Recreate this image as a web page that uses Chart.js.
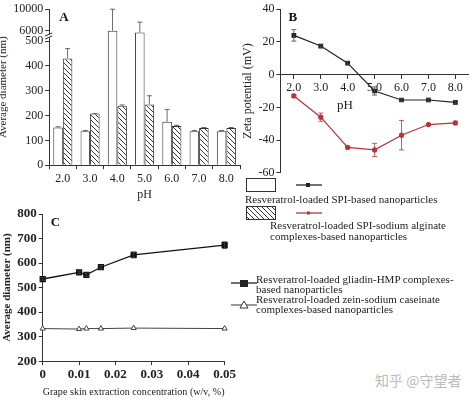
<!DOCTYPE html>
<html>
<head>
<meta charset="utf-8">
<script src="https://cdn.jsdelivr.net/npm/chart.js@4"></script>
<style>
body{margin:0;background:#fff;width:474px;height:400px;position:relative;overflow:hidden;font-family:"Liberation Serif",serif;color:#222}
canvas{position:absolute}
.t{position:absolute;font-size:11px;line-height:11px;white-space:nowrap}
.box{position:absolute;border:1px solid #333;width:28px;height:12px;background:#fff}
</style>
</head>
<body>
<canvas id="a" width="246" height="206" style="left:-4px;top:0"></canvas>
<canvas id="b" width="234" height="182" style="left:240px;top:0"></canvas>
<canvas id="c" width="238" height="198" style="left:0;top:202px"></canvas>

<div class="box" style="left:246px;top:178px"></div>
<svg style="position:absolute;left:294px;top:178px" width="30" height="14"><line x1="2" y1="7" x2="28" y2="7" stroke="#222" stroke-width="1.3"/><rect x="12" y="5" width="4" height="4" fill="#222"/></svg>
<div class="t" style="left:245px;top:194px">Resveratrol-loaded SPI-based nanoparticles</div>
<canvas id="hb" width="30" height="14" style="left:246px;top:206px"></canvas>
<svg style="position:absolute;left:294px;top:206px" width="30" height="14"><line x1="2" y1="7" x2="28" y2="7" stroke="#b8333f" stroke-width="1.3"/><rect x="13" y="5.5" width="3" height="3" fill="#b8333f"/></svg>
<div class="t" style="left:270px;top:220px">Resveratrol-loaded SPI-sodium alginate</div>
<div class="t" style="left:270px;top:231px">complexes-based nanoparticles</div>

<svg style="position:absolute;left:230px;top:280px" width="28" height="30"><line x1="1" y1="3" x2="27" y2="3" stroke="#222" stroke-width="1.3"/><rect x="10" y="-1" width="8" height="8" fill="#222"/><line x1="1" y1="25" x2="27" y2="25" stroke="#333"/><path d="M14 21 L18 28 L10 28 Z" fill="#fff" stroke="#333"/></svg>
<div class="t" style="left:256px;top:274px">Resveratrol-loaded gliadin-HMP complexes-</div>
<div class="t" style="left:256px;top:284px">based nanoparticles</div>
<div class="t" style="left:256px;top:294px">Resveratrol-loaded zein-sodium caseinate</div>
<div class="t" style="left:256px;top:304px">complexes-based nanoparticles</div>
<div class="t" style="left:375px;top:373px;font-size:14px;line-height:14px;color:#bbb;font-family:'Noto Sans CJK SC',sans-serif">知乎 @守望者</div>

<script>
const phLabels = ['2.0','3.0','4.0','5.0','6.0','7.0','8.0'];
// panel A: particle size (nm)
const spiSize = [152, 137, 6000, 5700, 175, 137, 137];
const spiSizeErr = [3, 3, 4000, 1900, 50, 3, 3];
const algSize = [430, 208, 240, 245, 158, 150, 150];
const algSizeErr = [40, 0, 3, 35, 3, 2, 2];
const sizeTicks = [0, 100, 200, 300, 400, 500, 6000, 10000];
// panel B: zeta potential (mV)
const spiZeta = [24, 17.5, 7, -10, -15.5, -15.5, -17];
const spiZetaErr = [3.5, 1, 1, 2.5, 0.8, 1, 1];
const algZeta = [-13, -26, -44.5, -46, -37, -30.5, -29.5];
const algZetaErr = [1, 2.5, 0.5, 4, 9, 0.5, 1];
// panel C: concentration vs diameter
const concX = [0, 0.01, 0.012, 0.016, 0.025, 0.05];
const gliadinSize = [535, 562, 552, 583, 633, 673];
const gliadinErr = [5, 5, 7, 7, 12, 14];
const zeinSize = [333, 331, 333, 333, 335, 333];

const RED = '#b8333f';
const serif = "'Liberation Serif', serif";

// hatched fill
function hatch() {
  const p = document.createElement('canvas'); p.width = p.height = 5;
  const g = p.getContext('2d');
  g.fillStyle = '#fff'; g.fillRect(0, 0, 5, 5);
  g.strokeStyle = '#333'; g.lineWidth = 1;
  g.beginPath(); g.moveTo(-1, -1); g.lineTo(6, 6); g.moveTo(-1, 4); g.lineTo(1, 6); g.moveTo(4, -1); g.lineTo(6, 1); g.stroke();
  return g.createPattern(p, 'repeat');
}
{ const g = document.getElementById('hb').getContext('2d'); g.fillStyle = hatch(); g.fillRect(0,0,30,14); g.strokeStyle='#333'; g.strokeRect(0.5,0.5,29,13); }

// broken y axis: 0-500 linear, then compressed 6000-10000
const fwd = v => v <= 500 ? v : Math.max(500, 542 + (v - 6000) * 0.02175);
const inv = t => t <= 500 ? t : 6000 + (t - 542) / 0.02175;
class BrokenScale extends Chart.LinearScale {
  getPixelForValue(v) { return super.getPixelForValue(fwd(v)); }
  getValueForPixel(p) { return inv(super.getValueForPixel(p)); }
}
BrokenScale.id = 'broken';
BrokenScale.defaults = Chart.LinearScale.defaults;
Chart.register(BrokenScale);

const errPlugin = {
  id: 'err',
  afterDatasetsDraw(chart) {
    const ctx = chart.ctx, ys = chart.scales.y;
    chart.data.datasets.forEach((ds, i) => {
      if (!ds.err) return;
      chart.getDatasetMeta(i).data.forEach((el, j) => {
        const v = ds.data[j], e = ds.err[j];
        const y = typeof v === 'object' ? v.y : v;
        const top = ys.getPixelForValue(y + e), bot = ds.upOnly ? el.y : ys.getPixelForValue(y - e);
        ctx.save(); ctx.strokeStyle = ds.errColor || '#444'; ctx.lineWidth = 0.8;
        ctx.beginPath(); ctx.moveTo(el.x, top); ctx.lineTo(el.x, bot);
        ctx.moveTo(el.x - 2.5, top); ctx.lineTo(el.x + 2.5, top);
        if (!ds.upOnly) { ctx.moveTo(el.x - 2.5, bot); ctx.lineTo(el.x + 2.5, bot); }
        ctx.stroke(); ctx.restore();
      });
    });
  }
};
const labelPlugin = {
  id: 'lbl',
  afterDraw(chart, a, o) {
    const ctx = chart.ctx, ca = chart.chartArea; ctx.save();
    ctx.font = 'bold 13px ' + serif; ctx.fillStyle = '#111';
    ctx.fillText(o.text, ca.left + o.dx, ca.top + 12);
    if (o.ph) {
      ctx.font = '13px ' + serif; ctx.fillStyle = '#222'; ctx.textBaseline = 'middle';
      ctx.fillText('pH', ca.left + (ca.right - ca.left) * 0.3, chart.scales.y.getPixelForValue(o.ph));
    }
    if (o.brk) {
      const ys = chart.scales.y, x = ca.left;
      const y = (ys.getPixelForValue(500) + ys.getPixelForValue(6000)) / 2;
      ctx.fillStyle = '#fff'; ctx.fillRect(x - 4, y - 2, 8, 4);
      ctx.strokeStyle = '#222'; ctx.lineWidth = 1;
      ctx.beginPath(); ctx.moveTo(x - 4, y); ctx.lineTo(x + 3, y - 3); ctx.moveTo(x - 4, y + 3); ctx.lineTo(x + 3, y); ctx.stroke();
    }
    ctx.restore();
  }
};

const axisBase = (size, bold) => ({
  grid: { drawOnChartArea: false, color: '#333', tickLength: 4 },
  border: { color: '#333', width: 1 },
  ticks: { color: '#222', padding: 2, font: { family: serif, size: size, weight: bold ? 'bold' : 'normal' } },
  title: { display: true, color: '#222', font: { family: serif, size: size, weight: bold ? 'bold' : 'normal' }, padding: 1 }
});
Chart.defaults.animation = false;
Chart.defaults.plugins.legend.display = false;
Chart.defaults.plugins.tooltip.enabled = false;

// A
const ax = axisBase(12), ay = axisBase(12);
new Chart(document.getElementById('a'), {
  type: 'bar',
  data: { labels: phLabels, datasets: [
    { data: spiSize, err: spiSizeErr, upOnly: true, backgroundColor: '#fff', borderColor: '#333', borderWidth: 1 },
    { data: algSize, err: algSizeErr, upOnly: true, backgroundColor: hatch(), borderColor: '#333', borderWidth: 1 }
  ]},
  options: {
    responsive: false,
    layout: { padding: { top: 2, right: 2, left: 0, bottom: 0 } },
    categoryPercentage: 0.7, barPercentage: 1,
    scales: {
      x: { ...ax, title: { ...ax.title, text: 'pH', padding: { top: 0 } } },
      y: { ...ay, type: 'broken', min: 0, max: fwd(10000),
        afterBuildTicks: s => { s.ticks = sizeTicks.map(v => ({ value: v })); },
        ticks: { ...ay.ticks, callback: v => v },
        title: { ...ay.title, text: 'Average diameter (nm)', font: { family: serif, size: 11 } } }
    },
    plugins: { lbl: { text: 'A', dx: 10, brk: true } }
  },
  plugins: [errPlugin, labelPlugin]
});

// B
const bx = axisBase(12), by = axisBase(12);
new Chart(document.getElementById('b'), {
  type: 'line',
  data: { labels: phLabels, datasets: [
    { data: spiZeta, err: spiZetaErr, borderColor: '#222', backgroundColor: '#222', borderWidth: 1.2, pointStyle: 'rect', pointRadius: 2.5 },
    { data: algZeta, err: algZetaErr, errColor: RED, borderColor: RED, backgroundColor: RED, borderWidth: 1.2, pointRadius: 2 }
  ]},
  options: {
    responsive: false,
    layout: { padding: { top: 6, right: 4, left: 0, bottom: 0 } },
    scales: {
      x: { ...bx, offset: true, position: { y: 0 } },
      y: { ...by, min: -60, max: 40, ticks: { ...by.ticks, stepSize: 20 }, title: { ...by.title, text: 'Zeta potential (mV)' } }
    },
    plugins: { lbl: { text: 'B', dx: 8, ph: -19 } }
  },
  plugins: [errPlugin, labelPlugin]
});

// C
const cx = axisBase(13, true), cy = axisBase(13, true);
new Chart(document.getElementById('c'), {
  type: 'line',
  data: { datasets: [
    { data: concX.map((x, i) => ({ x, y: gliadinSize[i] })), err: gliadinErr, clip: false, borderColor: '#111', backgroundColor: '#111', borderWidth: 1.3, pointStyle: 'rect', pointRadius: 3.5 },
    { data: concX.map((x, i) => ({ x, y: zeinSize[i] })), clip: false, borderColor: '#444', backgroundColor: '#fff', borderWidth: 1, pointStyle: 'triangle', pointRadius: 3 }
  ]},
  options: {
    responsive: false,
    layout: { padding: { top: 12, right: 10, left: 0, bottom: 0 } },
    scales: {
      x: { ...cx, type: 'linear', min: 0, max: 0.05, ticks: { ...cx.ticks, stepSize: 0.01, callback: v => +v.toFixed(2) },
        title: { ...cx.title, text: 'Grape skin extraction concentration (w/v, %)', font: { family: serif, size: 11 } } },
      y: { ...cy, min: 200, max: 800, ticks: { ...cy.ticks, stepSize: 100 }, title: { ...cy.title, text: 'Average diameter (nm)', font: { family: serif, size: 11, weight: 'bold' } } }
    },
    plugins: { lbl: { text: 'C', dx: 8 } }
  },
  plugins: [errPlugin, labelPlugin]
});
</script>
</body>
</html>
